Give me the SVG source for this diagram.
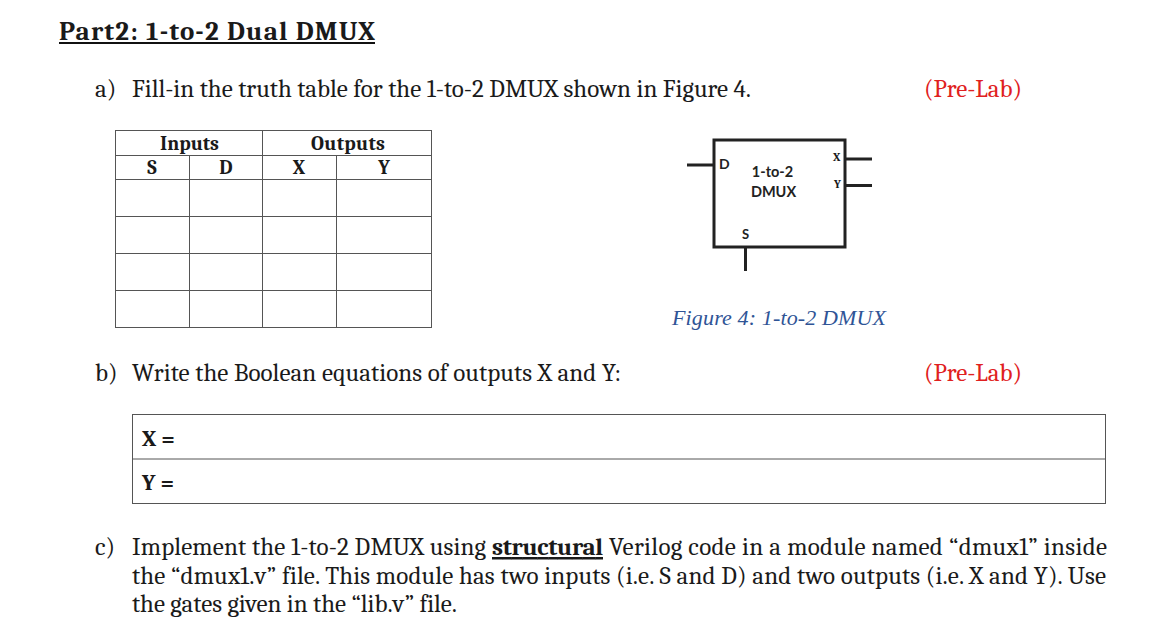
<svg xmlns="http://www.w3.org/2000/svg" width="1160" height="630" viewBox="0 0 1160 630">
<style>
text{font-family:"Cambria","Caladea","Liberation Serif","DejaVu Serif",serif;fill:#1a1a1a}
.b{font-size:25px}
.h{font-weight:bold;font-size:27px}
.th{font-weight:bold;font-size:20px}
.red{fill:#e02020;font-size:25px}
.l{stroke:#555;stroke-width:1;fill:none}
.k{stroke:#222;stroke-width:3;fill:none}
.f{font-family:"Lato","Liberation Sans",sans-serif;font-weight:bold;fill:#222}
</style>
<rect width="1160" height="630" fill="#fff"/>
<text class="h" x="59" y="40" textLength="316" lengthAdjust="spacing">Part2: 1-to-2 Dual DMUX</text>
<line x1="59" y1="43" x2="375" y2="43" stroke="#111" stroke-width="2"/>
<text class="b" x="95" y="97">a)</text>
<text class="b" x="132" y="97" textLength="619" lengthAdjust="spacing">Fill-in the truth table for the 1-to-2 DMUX shown in Figure 4.</text>
<text class="red" x="924" y="97" textLength="98" lengthAdjust="spacing">(Pre-Lab)</text>
<g id="truth-table">
<rect class="l" x="115.500" y="130.500" width="316" height="197"/>
<path class="l" d="M115 155.500H432M115 179.500H432M115 216.500H432M115 253.500H432M115 290.500H432M189.500 155V327M262.500 130V327M336.500 155V327"/>
<text class="th" x="160" y="150" textLength="59" lengthAdjust="spacing">Inputs</text>
<text class="th" x="311" y="150" textLength="74" lengthAdjust="spacing">Outputs</text>
<text class="th" x="152" y="174" text-anchor="middle">S</text>
<text class="th" x="226" y="174" text-anchor="middle">D</text>
<text class="th" x="299" y="174" text-anchor="middle">X</text>
<text class="th" x="384" y="174" text-anchor="middle">Y</text>
</g>
<g id="dmux">
<rect class="k" x="714" y="140" width="131" height="107"/>
<path class="k" d="M687 165H714M845 159H872M845 185.500H872M745.500 247V271"/>
<text class="f" x="719" y="169" font-size="14">D</text>
<text class="f" x="772.500" y="177" font-size="14.500" text-anchor="middle">1-to-2</text>
<text class="f" x="773.500" y="197" font-size="14.500" text-anchor="middle">DMUX</text>
<text class="f" x="745.500" y="239" font-size="13" text-anchor="middle">S</text>
<text x="833" y="161" font-size="12" font-weight="bold">X</text>
<text x="834" y="188" font-size="12" font-weight="bold">Y</text>
</g>
<text x="672" y="325" font-size="22" font-style="italic" textLength="214" lengthAdjust="spacing" style="font-family:'Liberation Serif',serif;fill:#2f5496">Figure 4: 1-to-2 DMUX</text>
<text class="b" x="95" y="381">b)</text>
<text class="b" x="132" y="381" textLength="489" lengthAdjust="spacing">Write the Boolean equations of outputs X and Y:</text>
<text class="red" x="924" y="381" textLength="98" lengthAdjust="spacing">(Pre-Lab)</text>
<g id="equations">
<rect class="l" x="132.500" y="414.500" width="973" height="89"/>
<line class="l" x1="132" y1="459" x2="1106" y2="459"/>
<text x="142" y="446" font-size="23" font-weight="bold">X =</text>
<text x="142" y="490" font-size="23" font-weight="bold">Y =</text>
</g>
<text class="b" x="95" y="555">c)</text>
<text class="b" x="132" y="555" textLength="354" lengthAdjust="spacing">Implement the 1-to-2 DMUX using</text>
<text class="b" x="492" y="555" textLength="111" lengthAdjust="spacing" font-weight="bold" text-decoration="underline">structural</text>
<text class="b" x="609" y="555" textLength="498" lengthAdjust="spacing">Verilog code in a module named “dmux1” inside</text>
<text class="b" x="132" y="584" textLength="974" lengthAdjust="spacing">the “dmux1.v” file. This module has two inputs (i.e. S and D) and two outputs (i.e. X and Y). Use</text>
<text class="b" x="132" y="612" textLength="325" lengthAdjust="spacing">the gates given in the “lib.v” file.</text>
</svg>
